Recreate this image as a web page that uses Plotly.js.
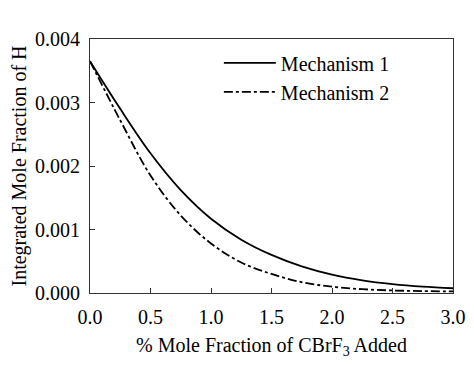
<!DOCTYPE html>
<html>
<head>
<meta charset="utf-8">
<script src="https://cdn.plot.ly/plotly-3.0.1.min.js"></script>
<style>html,body{margin:0;padding:0;background:#fff;}#chart{width:474px;height:366px;}</style>
</head>
<body>
<div id="chart"></div>
<script>
var xValues = [0, 0.25, 0.5, 0.75, 1.0, 1.25, 1.5, 1.75, 2.0, 2.25, 2.5, 2.75, 3.0];
var mech1 = [0.00365, 0.00290, 0.00220, 0.00162, 0.00117, 0.00084, 0.00060, 0.00042, 0.00029, 0.00020, 0.00014, 0.00010, 0.000075];
var mech2 = [0.00365, 0.00272, 0.00185, 0.00122, 0.00078, 0.00048, 0.00030, 0.00017, 0.00010, 0.00006, 0.00004, 0.00003, 0.000025];
var seriesNames = ["Mechanism 1", "Mechanism 2"];
var xTicks = [0, 0.5, 1.0, 1.5, 2.0, 2.5, 3.0];
var xTickLabels = ["0.0", "0.5", "1.0", "1.5", "2.0", "2.5", "3.0"];
var yTicks = [0, 0.001, 0.002, 0.003, 0.004];
var yTickLabels = ["0.000", "0.001", "0.002", "0.003", "0.004"];

var font = "Liberation Serif, Times New Roman, serif";
var traces = [
  {x: xValues, y: mech1, name: seriesNames[0], mode: "lines", line: {color: "#000", width: 1.8, shape: "spline"}},
  {x: xValues, y: mech2, name: seriesNames[1], mode: "lines", line: {color: "#000", width: 1.8, dash: "dashdot", shape: "spline"}}
];
var axisCommon = {showgrid: false, zeroline: false, showline: true, linecolor: "#333", linewidth: 1, mirror: true,
  ticks: "inside", ticklen: 5, tickcolor: "#333", tickfont: {family: font, size: 20, color: "#000"}};
var layout = {
  width: 474, height: 366,
  margin: {l: 90, r: 21, t: 39, b: 73},
  paper_bgcolor: "#fff", plot_bgcolor: "#fff",
  font: {family: font, color: "#000"},
  showlegend: true,
  legend: {x: 0.355, y: 0.983, xanchor: "left", yanchor: "top", bgcolor: "rgba(0,0,0,0)", itemwidth: 52,
    font: {family: font, size: 20, color: "#000"}, tracegroupgap: 0},
  xaxis: Object.assign({}, axisCommon, {range: [0, 3], tickvals: xTicks, ticktext: xTickLabels, ticklabelstandoff: 6,
    title: {text: "% Mole Fraction of CBrF<sub>3</sub> Added", font: {family: font, size: 20, color: "#000"}, standoff: 10}}),
  yaxis: Object.assign({}, axisCommon, {range: [0, 0.004], tickvals: yTicks, ticktext: yTickLabels, ticklabelstandoff: 5,
    title: {text: "Integrated Mole Fraction of H", font: {family: font, size: 20, color: "#000"}, standoff: 3}})
};
Plotly.newPlot("chart", traces, layout, {displayModeBar: false, staticPlot: true});
</script>
</body>
</html>
